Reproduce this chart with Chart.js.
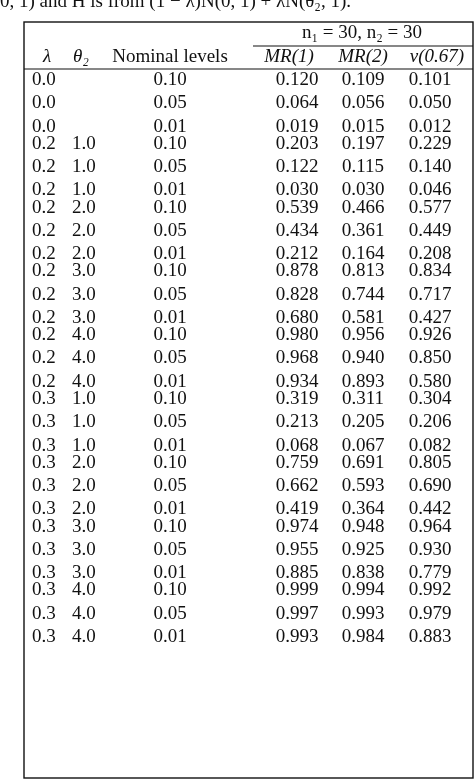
<!DOCTYPE html>
<html>
<head>
<meta charset="utf-8">
<script src="https://cdn.jsdelivr.net/npm/chart.js@4"></script>
<style>
  html, body { margin: 0; padding: 0; background: #fff; }
  #wrap { width: 474px; height: 780px; }
</style>
</head>
<body>
<div id="wrap"><canvas id="tbl"></canvas></div>
<script>
// Table data
const lambdas = ["0.0","0.0","0.0","0.2","0.2","0.2","0.2","0.2","0.2","0.2","0.2","0.2","0.2","0.2","0.2",
  "0.3","0.3","0.3","0.3","0.3","0.3","0.3","0.3","0.3","0.3","0.3","0.3"]
const thetas = ["","","","1.0","1.0","1.0","2.0","2.0","2.0","3.0","3.0","3.0","4.0","4.0","4.0",
  "1.0","1.0","1.0","2.0","2.0","2.0","3.0","3.0","3.0","4.0","4.0","4.0"]
const levels = ["0.10","0.05","0.01"]
const mr1 = [0.120,0.064,0.019, 0.203,0.122,0.030, 0.539,0.434,0.212, 0.878,0.828,0.680, 0.980,0.968,0.934,
  0.319,0.213,0.068, 0.759,0.662,0.419, 0.974,0.955,0.885, 0.999,0.997,0.993]
const mr2 = [0.109,0.056,0.015, 0.197,0.115,0.030, 0.466,0.361,0.164, 0.813,0.744,0.581, 0.956,0.940,0.893,
  0.311,0.205,0.067, 0.691,0.593,0.364, 0.948,0.925,0.838, 0.994,0.993,0.984]
const v067 = [0.101,0.050,0.012, 0.229,0.140,0.046, 0.577,0.449,0.208, 0.834,0.717,0.427, 0.926,0.850,0.580,
  0.304,0.206,0.082, 0.805,0.690,0.442, 0.964,0.930,0.779, 0.992,0.979,0.883]

// Row position in page units: 3 rows per group, extra gap between groups
function rowY(i) {
  const g = Math.floor(i / 3)
  return 80 + g * 63.8 + (i % 3) * 23.3
}

const tablePlugin = {
  id: "tablePlugin",
  afterDraw(chart) {
    const ctx = chart.ctx
    const sx = chart.scales.x, sy = chart.scales.y
    const X = (v) => sx.getPixelForValue(v)
    const Y = (v) => sy.getPixelForValue(v)
    const serif = '"Liberation Serif", "DejaVu Serif", serif'
    ctx.save()
    ctx.fillStyle = "#111"
    ctx.strokeStyle = "#111"
    ctx.textBaseline = "middle"

    // cut-off caption
    ctx.font = "19px " + serif
    ctx.textAlign = "left"
    ctx.fillText("0, 1) and H is from (1 \u2212 \u03bb)N(0, 1) + \u03bbN(\u03b8\u2082, 1).", X(0), Y(2))

    // box and rules
    ctx.lineWidth = 1.4
    ctx.strokeRect(X(24), Y(22), X(473) - X(24), Y(778) - Y(22))
    ctx.lineWidth = 1.1
    ctx.beginPath()
    ctx.moveTo(X(253), Y(46)); ctx.lineTo(X(473), Y(46))
    ctx.moveTo(X(24), Y(69)); ctx.lineTo(X(473), Y(69))
    ctx.stroke()

    // header
    ctx.textAlign = "center"
    ctx.font = "19px " + serif
    ctx.fillText("n\u2081 = 30, n\u2082 = 30", X(362), Y(33))
    ctx.font = "italic 19px " + serif
    ctx.fillText("\u03bb", X(47), Y(57))
    ctx.fillText("\u03b8\u2082", X(81), Y(57))
    ctx.font = "19px " + serif
    ctx.fillText("Nominal levels", X(170), Y(57))
    ctx.font = "italic 19px " + serif
    ctx.fillText("MR(1)", X(289), Y(57))
    ctx.fillText("MR(2)", X(363), Y(57))
    ctx.fillText("v(0.67)", X(437), Y(57))

    // body
    ctx.font = "19px " + serif
    for (let i = 0; i < mr1.length; i++) {
      const y = Y(rowY(i))
      ctx.textAlign = "left"
      ctx.fillText(lambdas[i], X(32), y)
      ctx.fillText(thetas[i], X(72), y)
      ctx.textAlign = "center"
      ctx.fillText(levels[i % 3], X(170), y)
      ctx.fillText(mr1[i].toFixed(3), X(297), y)
      ctx.fillText(mr2[i].toFixed(3), X(363), y)
      ctx.fillText(v067[i].toFixed(3), X(430), y)
    }
    ctx.restore()
  },
}

new Chart(document.getElementById("tbl"), {
  type: "scatter",
  data: { datasets: [{ data: [], pointRadius: 0 }] },
  options: {
    responsive: true,
    maintainAspectRatio: false,
    animation: false,
    layout: { padding: 0 },
    plugins: { legend: { display: false }, tooltip: { enabled: false } },
    scales: {
      x: { type: "linear", min: 0, max: 474, display: false },
      y: { type: "linear", min: 0, max: 780, reverse: true, display: false },
    },
  },
  plugins: [tablePlugin],
})
</script>
</body>
</html>
